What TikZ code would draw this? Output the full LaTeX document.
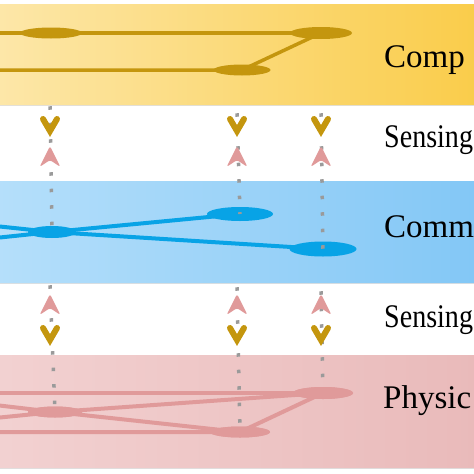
\documentclass[tikz,border=0pt]{standalone}
\usepackage{fontspec}
\setmainfont{Liberation Serif}
\usetikzlibrary{shapes.geometric}

\definecolor{comp-gold}{HTML}{C4960E}
\definecolor{comm-blue}{HTML}{08A3E6}
\definecolor{phys-pink}{HTML}{E09A9A}
\definecolor{dot-gray}{HTML}{9A9A9A}
\definecolor{comp-band-l}{HTML}{FDE9B0}
\definecolor{comp-band-r}{HTML}{F9C93E}
\definecolor{comm-band-l}{HTML}{B9E1FB}
\definecolor{comm-band-r}{HTML}{7CC4F5}
\definecolor{phys-band-l}{HTML}{F3D3D3}
\definecolor{phys-band-r}{HTML}{E8B7B7}

\begin{document}
\begin{tikzpicture}[
  x=1pt,y=-1pt,
  layer-text/.style={anchor=base west,inner sep=0pt,font=\fontsize{33}{40}\selectfont},
  layer-band/.style={rounded corners=30pt},
  net-node/.style={ellipse,inner sep=0pt},
  comp-node/.style={net-node,fill=comp-gold},
  comm-node/.style={net-node,fill=comm-blue},
  phys-node/.style={net-node,fill=phys-pink},
  comp-link/.style={draw=comp-gold,line width=3.5pt},
  comm-link/.style={draw=comm-blue,line width=4pt},
  phys-link/.style={draw=phys-pink,line width=4pt},
  sense-dots/.style={draw=dot-gray,line width=3.5pt,dash pattern=on 3.5pt off 13pt},
  down-chev/.pic={
    \draw[comp-gold,line width=6pt,line cap=round,line join=miter] (-7,-7) -- (0,5) -- (7,-7);
  },
  up-chev/.pic={
    \fill[phys-pink,rounded corners=2.5pt] (0,-11) -- (10.5,10) -- (0,3) -- (-10.5,10) -- cycle;
  },
  ]

  \useasboundingbox (0,0) rectangle (474,474);

  \fill [layer-band,left color=comp-band-l,right color=comp-band-r] (-40,4) rectangle (540,105);
  \fill [layer-band,left color=comm-band-l,right color=comm-band-r] (-40,181) rectangle (540,283);
  \fill [layer-band,left color=phys-band-l,right color=phys-band-r] (-40,355) rectangle (540,468);

  \node [comp-node,minimum width=62pt,minimum height=11pt] (comp-a) at (51,33) {};
  \node [comp-node,minimum width=62pt,minimum height=12pt] (comp-b) at (321,33) {};
  \node [comp-node,minimum width=57pt,minimum height=11pt] (comp-c) at (242,70) {};
  \coordinate (comp-in1) at (-5,33);
  \coordinate (comp-in2) at (-5,70);
  \draw [comp-link] (comp-in1) -- (comp-a.center) -- (comp-b.center);
  \draw [comp-link] (comp-in2) -- (comp-c.center) -- (comp-b.center);

  \node [comm-node,minimum width=48pt,minimum height=12pt] (comm-a) at (52,232) {};
  \node [comm-node,minimum width=66pt,minimum height=14pt] (comm-b) at (240,214) {};
  \node [comm-node,minimum width=67pt,minimum height=15pt] (comm-c) at (323,249) {};
  \coordinate (comm-in1) at (-5,226);
  \coordinate (comm-in2) at (-5,238);
  \draw [comm-link] (comm-in1) -- (comm-a.center) -- (comm-c.center);
  \draw [comm-link] (comm-in2) -- (comm-a.center) -- (comm-b.center);

  \coordinate (up-a) at (50,106.25);
  \coordinate (up-b) at (237,113.25);
  \coordinate (up-c) at (321,113.25);
  \draw [sense-dots] (up-a) -- (comm-a.center);
  \draw [sense-dots] (up-b) -- (comm-b.center);
  \draw [sense-dots] (up-c) -- (comm-c.center);

  \coordinate (low-a) at (50,285.25);
  \coordinate (low-b) at (237,287.25);
  \coordinate (low-c) at (321,291.25);

  \node [phys-node,minimum width=54pt,minimum height=11pt] (phys-a) at (55,412) {};
  \node [phys-node,minimum width=60pt,minimum height=12pt] (phys-b) at (323,393) {};
  \node [phys-node,minimum width=60pt,minimum height=11pt] (phys-c) at (240,432) {};

  \draw [sense-dots] (low-a) -- (phys-a.center);
  \draw [sense-dots] (low-b) -- (phys-c.center);
  \draw [sense-dots] (low-c) -- (phys-b.center);

  \coordinate (phys-in1) at (-5,393);
  \coordinate (phys-in2) at (-5,405);
  \coordinate (phys-in3) at (-5,418);
  \coordinate (phys-in4) at (-5,432);
  \draw [phys-link] (phys-in1) -- (phys-b.center);
  \draw [phys-link] (phys-in2) -- (phys-a.center) -- (phys-b.center);
  \draw [phys-link] (phys-in3) -- (phys-a.center) -- (phys-c.center);
  \draw [phys-link] (phys-in4) -- (phys-c.center) -- (phys-b.center);
  \node [phys-node,minimum width=54pt,minimum height=11pt] at (phys-a) {};
  \node [phys-node,minimum width=60pt,minimum height=12pt] at (phys-b) {};
  \node [phys-node,minimum width=60pt,minimum height=11pt] at (phys-c) {};

  \foreach \col in {50,237,321} {
    \pic at (\col,126) {down-chev};
    \pic at (\col,157) {up-chev};
    \pic at (\col,305) {up-chev};
    \pic at (\col,335) {down-chev};
  }

  \node [layer-text] (comp-label) at (384,67) {Comp};
  \node [layer-text] (sense-label-a) at (384,147) {\scalebox{0.85}[1]{Sensing}};
  \node [layer-text] (comm-label) at (384,237) {Comm};
  \node [layer-text] (sense-label-b) at (384,327) {\scalebox{0.85}[1]{Sensing}};
  \node [layer-text] (phys-label) at (383,408) {Physic};

\end{tikzpicture}
\end{document}
